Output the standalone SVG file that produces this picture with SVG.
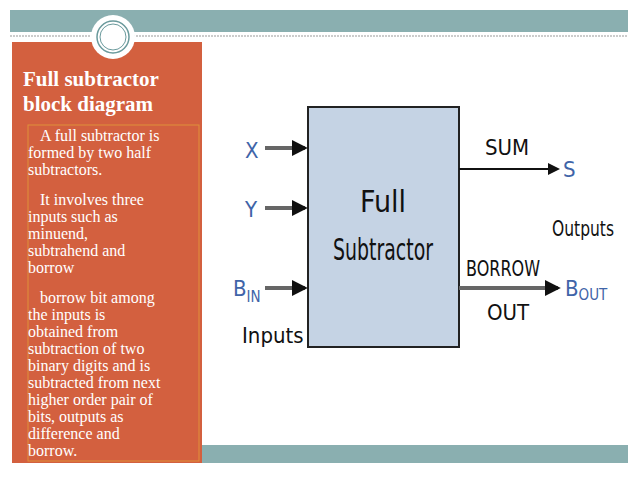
<svg xmlns="http://www.w3.org/2000/svg" width="638" height="478" viewBox="0 0 638 478">
<style>
.t{font-family:"Liberation Serif",serif;fill:#fff;font-size:16px}
.h{font-size:21px;font-weight:bold}
.d{font-family:"Liberation Sans Narrow","DejaVu Sans Condensed","Liberation Sans",sans-serif;font-size:22px;fill:#111}
.big{font-size:30px}
.sub{font-size:15px}
.b{fill:#3f64a8}
</style>
<defs>
<marker id="a" markerWidth="6" markerHeight="6" refX="5" refY="3" orient="auto" markerUnits="strokeWidth"><path d="M0,0L6,3L0,6z" fill="#111"/></marker>
<marker id="a2" markerWidth="4" markerHeight="4" refX="3.3" refY="2" orient="auto" markerUnits="strokeWidth"><path d="M0,0L4,2L0,4z" fill="#111"/></marker>
</defs>
<rect width="638" height="478" fill="#fff"/>
<rect x="10" y="10" width="618" height="22" fill="#8aafb0"/>
<line x1="10" y1="36" x2="628" y2="36" stroke="#ccc" stroke-width="2" stroke-dasharray="2,1"/>
<rect x="12" y="42" width="190" height="421" fill="#d3603f"/>
<rect x="202" y="445" width="426" height="18" fill="#8aafb0"/>
<circle cx="113" cy="37" r="22" fill="#fff"/>
<circle cx="113" cy="37" r="16" fill="none" stroke="#6a9a9c" stroke-width="1.5"/>
<circle cx="113" cy="37" r="13" fill="none" stroke="#6a9a9c" stroke-width="1"/>
<text class="t h" x="23" y="86">Full subtractor</text>
<text class="t h" x="23" y="111">block diagram</text>
<rect x="28" y="125" width="171" height="336" fill="none" stroke="#e0903a" stroke-width="1"/>
<g class="t">
<text x="28" y="141"><tspan x="40">A full subtractor is</tspan><tspan x="28" dy="17">formed by two half</tspan><tspan x="28" dy="17">subtractors.</tspan></text>
<text x="28" y="205"><tspan x="40">It involves three</tspan><tspan x="28" dy="17">inputs such as</tspan><tspan x="28" dy="17">minuend,</tspan><tspan x="28" dy="17">subtrahend and</tspan><tspan x="28" dy="17">borrow</tspan></text>
<text x="28" y="303"><tspan x="40">borrow bit among</tspan><tspan x="28" dy="17">the inputs is</tspan><tspan x="28" dy="17">obtained from</tspan><tspan x="28" dy="17">subtraction of two</tspan><tspan x="28" dy="17">binary digits and is</tspan><tspan x="28" dy="17">subtracted from next</tspan><tspan x="28" dy="17">higher order pair of</tspan><tspan x="28" dy="17">bits, outputs as</tspan><tspan x="28" dy="17">difference and</tspan><tspan x="28" dy="17">borrow.</tspan></text>
</g>
<g id="block"><rect x="308" y="107" width="151" height="240" fill="#c5d3e4" stroke="#222" stroke-width="2"/>
<text class="d big" x="383" y="212" text-anchor="middle">Full</text>
<text class="d big" x="333" y="260" textLength="100" lengthAdjust="spacingAndGlyphs">Subtractor</text></g>
<g id="in-x"><text class="d b" x="245" y="158">X</text></g>
<g id="in-y"><text class="d b" x="245" y="217">Y</text></g>
<g id="in-b"><text class="d b" x="233" y="296">B<tspan class="sub" dy="6">IN</tspan></text></g>
<g id="lbl-in"><text class="d" x="242" y="343">Inputs</text></g>
<g id="out-s"><text class="d b" x="563" y="177">S</text></g>
<g id="out-b"><text class="d b" x="565" y="296">B<tspan class="sub" dy="4">OUT</tspan></text></g>
<g id="lbl-out"><text class="d" x="552" y="236" textLength="62" lengthAdjust="spacingAndGlyphs">Outputs</text>
<text class="d" x="485" y="155">SUM</text>
<text class="d" x="466" y="276" textLength="74" lengthAdjust="spacingAndGlyphs">BORROW</text>
<text class="d" x="487" y="320">OUT</text></g>
<g id="connectors" stroke="#666">
<line x1="265" y1="148" x2="305" y2="148" stroke-width="4" marker-end="url(#a2)"/>
<line x1="265" y1="208" x2="305" y2="208" stroke-width="4" marker-end="url(#a2)"/>
<line x1="265" y1="288" x2="305" y2="288" stroke-width="4" marker-end="url(#a2)"/>
<line x1="459" y1="169" x2="558" y2="169" stroke="#111" stroke-width="2" marker-end="url(#a)"/>
<line x1="459" y1="288" x2="558" y2="288" stroke-width="4" marker-end="url(#a2)"/>
</g>
</svg>
